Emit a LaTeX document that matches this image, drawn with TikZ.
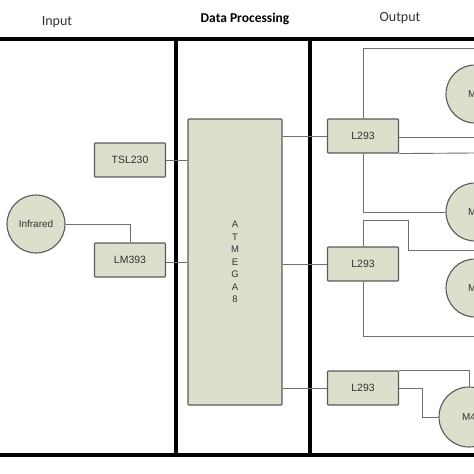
\documentclass[tikz,border=0pt]{standalone}
\usepackage{fontspec}
\setmainfont{Liberation Sans}
\newfontfamily\headfont{Carlito}
\usepackage{tikz}
\usetikzlibrary{shapes.geometric, arrows, positioning}
\definecolor{boxfill}{HTML}{DCDFCB}
\definecolor{boxline}{HTML}{5A5A5A}
\definecolor{wire}{HTML}{707070}
\definecolor{labeltext}{HTML}{333333}
\tikzstyle{block} = [draw=boxline, fill=boxfill, rectangle, rounded corners=0.8pt,
    line width=1.1pt, text=labeltext, font=\fontsize{10.5}{12}\selectfont,
    minimum height=34pt, minimum width=71pt, inner sep=0pt]
\tikzstyle{motor} = [draw=boxline, fill=boxfill, circle, line width=1.1pt,
    text=labeltext, font=\fontsize{10}{12}\selectfont,
    minimum size=58pt, inner sep=0pt]
\tikzstyle{wire} = [draw=wire, line width=0.9pt]
\tikzstyle{frame} = [line width=4pt, black]
\tikzstyle{title} = [font=\headfont\fontsize{14}{16}\selectfont]

\begin{document}
\begin{tikzpicture}[x=1pt, y=-1pt]
            \useasboundingbox (0,0) rectangle (474,474);

            % Frame
            \draw [frame] (0,39) -- (474,39);
            \draw [frame] (0,455) -- (474,455);
            \draw [frame] (176,39) -- (176,455);
            \draw [frame] (310,39) -- (310,455);

            % Titles
            \node (input) [title, text=labeltext] at (57,22) {Input};
            \node (proc) [title, font=\headfont\bfseries\fontsize{13.5}{16}\selectfont] at (245,19) {Data Processing};
            \node (output) [title, text=labeltext] at (400,18) {Output};

            % Blocks
            \node (ir) [motor] at (36,224) {Infrared};
            \node (tsl) [block] at (130,160) {TSL230};
            \node (lm) [block] at (130,260) {LM393};
            \node (mcu) [block, minimum width=94pt, minimum height=286pt, align=center,
                font=\fontsize{9.5}{12.5}\selectfont] at (235,262) {A\\T\\M\\E\\G\\A\\8};
            \node (drva) [block] at (363,136) {L293};
            \node (drvb) [block] at (363,264) {L293};
            \node (drvc) [block] at (363,388) {L293};
            \node (ma) [motor] at (475,94) {M1};
            \node (mb) [motor] at (475,212) {M2};
            \node (mc) [motor] at (475,288) {M3};
            \node (md) [motor, minimum size=60pt] at (469,417) {M4};

            % Free ends at the right edge
            \coordinate (ea) at (474,48);
            \coordinate (eb) at (474,137);
            \coordinate (ec) at (474,153);
            \coordinate (ed) at (474,250);
            \coordinate (ee) at (474,336);

            % Lines
            \draw [wire] (ir.east) -| (lm.north);
            \draw [wire] (tsl.east) -- (tsl.east -| mcu.west);
            \draw [wire] (lm.east |- 0,262) -- (mcu.west |- 0,262);
            \draw [wire] (mcu.east |- drva.west) -- (drva.west);
            \draw [wire] (mcu.east |- drvb.west) -- (drvb.west);
            \draw [wire] (mcu.east |- drvc.west) -- (drvc.west);
            \draw [wire] (drva.north) |- (ea);
            \draw [wire] (drva.east |- eb) -- (eb);
            \draw [wire] (drva.south east) -- (ec);
            \draw [wire] (drva.south) |- (mb.west);
            \draw [wire] (drvb.north) -- ++(0,-26) -| (408,250) -- (ed);
            \draw [wire] (drvb.south) |- (ee);
            \draw [wire] (drvc.north east) -| (md.north);
            \draw [wire] (drvc.east) -| (422,417) -- (md.west);

        \end{tikzpicture}
\end{document}
